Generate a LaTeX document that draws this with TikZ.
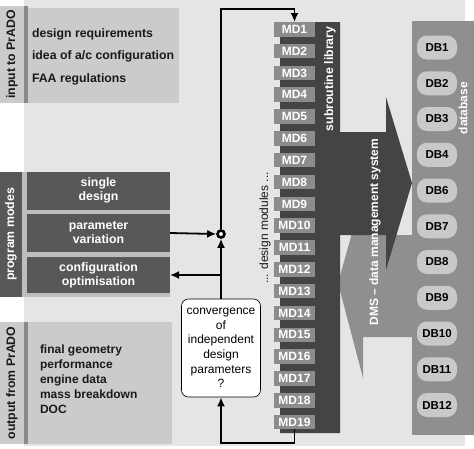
\documentclass[tikz,border=0pt]{standalone}
\usepackage{fontspec}
\setmainfont{Liberation Sans}
\usetikzlibrary{arrows.meta,calc}
\definecolor{bgc}{HTML}{E5E5E5}
\definecolor{boxc}{HTML}{CBCBCB}
\definecolor{stripec}{HTML}{8A8A8A}
\definecolor{darkc}{HTML}{585858}
\definecolor{sepc}{HTML}{BDBDBD}
\definecolor{libc}{HTML}{444444}
\definecolor{mdc}{HTML}{8C8C8C}
\definecolor{dbc}{HTML}{8F8F8F}
\definecolor{pillc}{HTML}{C9C9C9}
\definecolor{txtc}{HTML}{1A1A1A}
\begin{document}
\begin{tikzpicture}[x=1pt,y=-1pt,
  blk/.style={rectangle,inner sep=0pt,outer sep=0pt,draw=none},
  lbl/.style={blk,rotate=90,font=\bfseries\fontsize{12.3}{14}\selectfont},
  modebox/.style={blk,fill=darkc,text=white,align=center,minimum width=143pt,
    font=\bfseries\fontsize{12.3}{14}\selectfont},
  mdbox/.style={blk,fill=mdc,text=white,minimum width=41pt,minimum height=14.5pt,
    font=\bfseries\fontsize{12}{12}\selectfont},
  pill/.style={blk,fill=pillc,rounded corners=10pt,minimum width=40pt,minimum height=24pt,
    font=\bfseries\fontsize{11.5}{12}\selectfont,text=black},
  conn/.style={line width=1.8pt,draw=black,-{Latex[length=9pt,width=8pt]}},
  rottxt/.style={rotate=90,inner sep=0pt}
]
\useasboundingbox (0,0) rectangle (474,448);
% background
\fill[bgc] (24,0) rectangle (465,446);

% ---- input panel
\node[lbl,fill=boxc,text=txtc,minimum width=97pt,minimum height=24pt] (inlab) at (12,54.5) {input to PrADO};
\fill[stripec] (24,6) rectangle (28,103);
\node[blk,fill=boxc,anchor=north west,minimum width=151pt,minimum height=95pt] (inbox) at (28,8) {};
\node[blk,anchor=west,align=left,text=txtc,font=\bfseries\fontsize{12.3}{22.5}\selectfont] (intxt) at (32,56.5)
  {design requirements\\idea of a/c configuration\\FAA regulations};

% ---- program modes
\node[lbl,fill=darkc,text=white,minimum width=125pt,minimum height=22pt] (pmlab) at (11,234.5) {program modes};
\fill[sepc] (22,172) rectangle (170,297);
\node[modebox,minimum height=37.5pt] (sgl) at (98.5,190.75) {single\\design};
\node[modebox,minimum height=38pt] (par) at (98.5,233) {parameter\\variation};
\node[modebox,minimum height=36pt] (cfg) at (98.5,275) {configuration\\optimisation};

% ---- output panel
\node[lbl,fill=boxc,text=txtc,minimum width=122pt,minimum height=24pt] (outlab) at (12,383) {output from PrADO};
\fill[stripec] (24,322) rectangle (28,444);
\node[blk,fill=boxc,anchor=north west,minimum width=144pt,minimum height=122pt] (outbox) at (28,322) {};
\node[blk,anchor=west,align=left,text=txtc,font=\bfseries\fontsize{12}{15}\selectfont] (outtxt) at (40,379)
  {final geometry\\performance\\engine data\\mass breakdown\\DOC};

% ---- DMS arrow (grey, pointing left)
\fill[dbc] (338,283) -- (363,194) -- (363,235) -- (414,235) -- (414,337) -- (363,337) -- (363,378) -- cycle;
% ---- subroutine library column with arrow to database
\fill[libc] (280,22) -- (340,22) -- (340,132) -- (386,132) -- (386,97) -- (412,183) -- (386,270)
  -- (386,235) -- (340,235) -- (340,433) -- (280,433) -- cycle;
% ---- database column
\fill[dbc] (412,21) rectangle (474,435);

% MD boxes
\foreach \i in {1,...,19}{
  \node[mdbox] (md\i) at (294.5,{29.25+(\i-1)*21.83}) {MD\i};
}
% DB pills
\foreach \n [count=\k from 0] in {1,2,3,4,6,7,8,9,10,11,12}{
  \node[pill] (db\n) at (437,{47.5+\k*35.75}) {DB\n};
}

% rotated labels
\node[rottxt,text=white,font=\bfseries\fontsize{12.3}{14}\selectfont] (sublib) at (330,79) {subroutine library};
\node[rottxt,text=white,font=\bfseries\fontsize{12}{14}\selectfont] (dmslab) at (375,232) {DMS -- data management system};
\node[rottxt,text=white,font=\bfseries\fontsize{12}{14}\selectfont] (dblab) at (463,108) {database};
\node[rottxt,text=txtc,font=\fontsize{12}{14}\selectfont] (dmods) at (265,228) {... design modules ...};

% convergence box
\node[rectangle,draw=black,line width=0.6pt,fill=white,rounded corners=7pt,minimum width=79pt,
  minimum height=98pt,inner sep=0pt,align=center,font=\fontsize{12}{14.6}\selectfont] (conv) at (221,348)
  {convergence\\of\\independent\\design\\parameters\\?};

% circle junction
\node[circle,draw=black,fill=white,line width=2.6pt,minimum size=7pt,inner sep=0pt] (circ) at (221,234) {};
\coordinate (topc) at (294.5,9);
\coordinate (junc) at (221,275);

% connectors
\draw[conn] (circ.north) |- (topc) -- (md1.north);
\draw[conn] (md19.south) -- ++(0,13.5) -| (conv.south);
\draw[conn] (conv.north) -- (circ.south);
\draw[conn] (junc) -- (cfg.east);
\draw[conn] (par.east) -- (circ.west);
\end{tikzpicture}
\end{document}
